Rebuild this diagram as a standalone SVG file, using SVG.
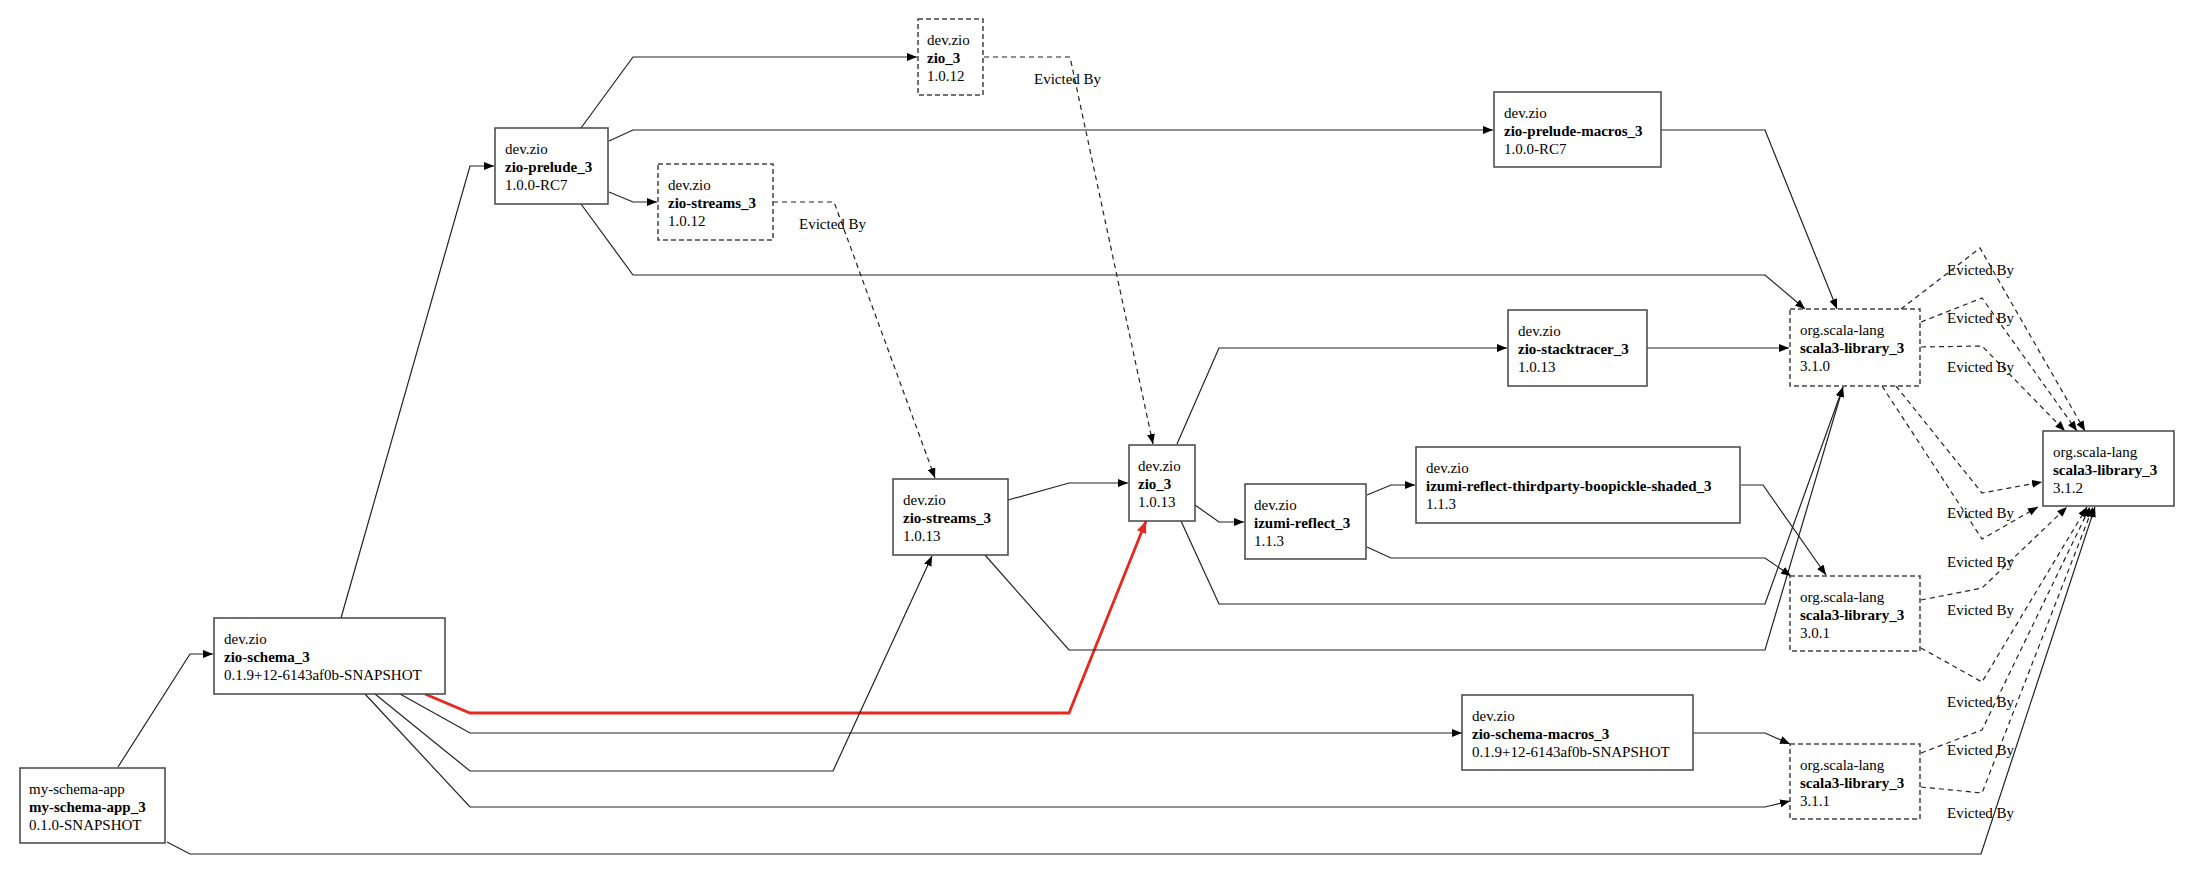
<svg xmlns="http://www.w3.org/2000/svg" width="2202" height="884" viewBox="0 0 2202 884">
<defs>
<marker id="ah" markerUnits="userSpaceOnUse" markerWidth="10" markerHeight="8" refX="10" refY="4" orient="auto"><path d="M0,0 L10,4 L0,8 Z" fill="#000"/></marker>
<marker id="ahr" markerUnits="userSpaceOnUse" markerWidth="12" markerHeight="10" refX="12" refY="5" orient="auto"><path d="M0,0 L12,5 L0,10 Z" fill="#e8281e"/></marker>
<style>
text{font-family:"Liberation Serif","Times New Roman",serif;font-size:15px;fill:#000}
.b{font-weight:bold}
.n rect{fill:#fff;stroke:#444;stroke-width:1.5}
.n.d rect{stroke-dasharray:5,3}
#edges polyline{fill:none;stroke:#222;stroke-width:1.2;marker-end:url(#ah)}
#edges polyline.dash{stroke-dasharray:5,4}
#edges polyline.red{stroke:#e8281e;stroke-width:2.8;marker-end:url(#ahr)}
</style>
</defs>
<rect width="2202" height="884" fill="#fff"/>
<g id="edges">
<polyline points="118,767 190,654 213,654"/>
<polyline points="167,842 190,854 1981,854 2095,507"/>
<polyline points="341,618 470,166 494,166"/>
<polyline class="red" points="425,694 470,713 1069,713 1146,521"/>
<polyline points="400,694 470,733 1462,733"/>
<polyline points="375,694 470,771 833,771 932,556"/>
<polyline points="365,694 470,807 1765,807 1790,801"/>
<polyline points="581,128 633,57 917,57"/>
<polyline points="609,141 633,130 1493,130"/>
<polyline points="609,192 633,202 657,202"/>
<polyline points="581,204 633,275 1765,275 1805,309"/>
<polyline class="dash" points="984,57 1070,57 1153,444"/>
<polyline class="dash" points="773,202 834,202 935,478"/>
<polyline points="1661,130 1765,130 1837,309"/>
<polyline points="1647,348 1789,348"/>
<polyline points="1008,500 1069,483 1128,483"/>
<polyline points="985,555 1069,650 1765,650 1843,387"/>
<polyline points="1177,444 1219,348 1507,348"/>
<polyline points="1195,505 1219,522 1244,522"/>
<polyline points="1181,521 1219,604 1765,604 1843,387"/>
<polyline points="1367,495 1391,485 1415,485"/>
<polyline points="1367,547 1391,558 1765,558 1791,576"/>
<polyline points="1741,485 1763,485 1826,575"/>
<polyline points="1693,733 1765,733 1790,744"/>
<polyline class="dash" points="1901,309 1980,248 2085,431"/>
<polyline class="dash" points="1921,322 1982,298 2077,431"/>
<polyline class="dash" points="1921,347 1982,346 2065,431"/>
<polyline class="dash" points="1896,386 1982,493 2042,482"/>
<polyline class="dash" points="1882,386 1982,539 2038,507"/>
<polyline class="dash" points="1921,600 1982,588 2067,507"/>
<polyline class="dash" points="1921,648 1982,682 2087,507"/>
<polyline class="dash" points="1921,753 1982,730 2090,507"/>
<polyline class="dash" points="1921,787 1982,793 2093,507"/>
<text x="1034" y="84">Evicted By</text>
<text x="799" y="229">Evicted By</text>
<text x="1947" y="275">Evicted By</text>
<text x="1947" y="323">Evicted By</text>
<text x="1947" y="372">Evicted By</text>
<text x="1947" y="518">Evicted By</text>
<text x="1947" y="567">Evicted By</text>
<text x="1947" y="615">Evicted By</text>
<text x="1947" y="707">Evicted By</text>
<text x="1947" y="755">Evicted By</text>
<text x="1947" y="818">Evicted By</text>
</g>
<g id="my-schema-app" class="n"><rect x="20" y="768" width="145" height="75"/><text x="29" y="794">my-schema-app</text><text x="29" y="812" class="b">my-schema-app_3</text><text x="29" y="830">0.1.0-SNAPSHOT</text></g>
<g id="zio-schema" class="n"><rect x="214" y="618" width="231" height="76"/><text x="224" y="644">dev.zio</text><text x="224" y="662" class="b">zio-schema_3</text><text x="224" y="680">0.1.9+12-6143af0b-SNAPSHOT</text></g>
<g id="zio-prelude" class="n"><rect x="495" y="128" width="113" height="76"/><text x="505" y="154">dev.zio</text><text x="505" y="172" class="b">zio-prelude_3</text><text x="505" y="190">1.0.0-RC7</text></g>
<g id="zio-1012" class="n d"><rect x="918" y="19" width="65" height="76"/><text x="927" y="45">dev.zio</text><text x="927" y="63" class="b">zio_3</text><text x="927" y="81">1.0.12</text></g>
<g id="zio-streams-1012" class="n d"><rect x="658" y="164" width="115" height="76"/><text x="668" y="190">dev.zio</text><text x="668" y="208" class="b">zio-streams_3</text><text x="668" y="226">1.0.12</text></g>
<g id="zio-prelude-macros" class="n"><rect x="1494" y="92" width="167" height="75"/><text x="1504" y="118">dev.zio</text><text x="1504" y="136" class="b">zio-prelude-macros_3</text><text x="1504" y="154">1.0.0-RC7</text></g>
<g id="zio-streams-1013" class="n"><rect x="893" y="479" width="115" height="76"/><text x="903" y="505">dev.zio</text><text x="903" y="523" class="b">zio-streams_3</text><text x="903" y="541">1.0.13</text></g>
<g id="zio-1013" class="n"><rect x="1129" y="445" width="66" height="76"/><text x="1138" y="471">dev.zio</text><text x="1138" y="489" class="b">zio_3</text><text x="1138" y="507">1.0.13</text></g>
<g id="izumi-reflect" class="n"><rect x="1245" y="484" width="121" height="75"/><text x="1254" y="510">dev.zio</text><text x="1254" y="528" class="b">izumi-reflect_3</text><text x="1254" y="546">1.1.3</text></g>
<g id="izumi-thirdparty" class="n"><rect x="1416" y="447" width="324" height="76"/><text x="1426" y="473">dev.zio</text><text x="1426" y="491" class="b">izumi-reflect-thirdparty-boopickle-shaded_3</text><text x="1426" y="509">1.1.3</text></g>
<g id="zio-stacktracer" class="n"><rect x="1508" y="310" width="139" height="76"/><text x="1518" y="336">dev.zio</text><text x="1518" y="354" class="b">zio-stacktracer_3</text><text x="1518" y="372">1.0.13</text></g>
<g id="zio-schema-macros" class="n"><rect x="1462" y="695" width="231" height="75"/><text x="1472" y="721">dev.zio</text><text x="1472" y="739" class="b">zio-schema-macros_3</text><text x="1472" y="757">0.1.9+12-6143af0b-SNAPSHOT</text></g>
<g id="scala-310" class="n d"><rect x="1790" y="309" width="130" height="77"/><text x="1800" y="335">org.scala-lang</text><text x="1800" y="353" class="b">scala3-library_3</text><text x="1800" y="371">3.1.0</text></g>
<g id="scala-301" class="n d"><rect x="1790" y="576" width="130" height="75"/><text x="1800" y="602">org.scala-lang</text><text x="1800" y="620" class="b">scala3-library_3</text><text x="1800" y="638">3.0.1</text></g>
<g id="scala-311" class="n d"><rect x="1790" y="744" width="130" height="75"/><text x="1800" y="770">org.scala-lang</text><text x="1800" y="788" class="b">scala3-library_3</text><text x="1800" y="806">3.1.1</text></g>
<g id="scala-312" class="n"><rect x="2043" y="431" width="131" height="75"/><text x="2053" y="457">org.scala-lang</text><text x="2053" y="475" class="b">scala3-library_3</text><text x="2053" y="493">3.1.2</text></g>
</svg>
